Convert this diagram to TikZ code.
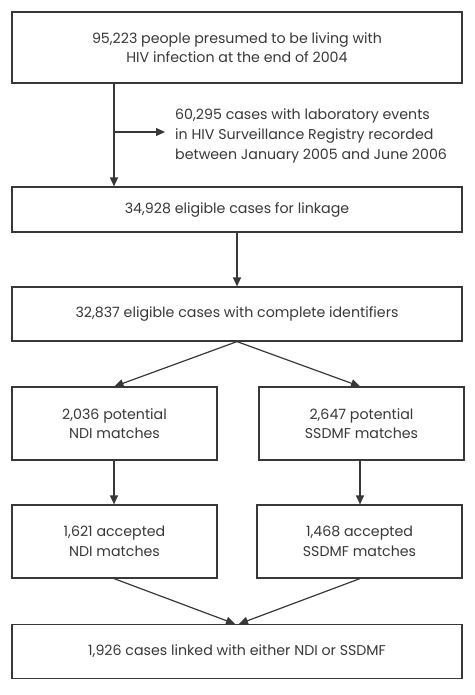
\documentclass[tikz,border=0pt]{standalone}
\usepackage{fontspec}
\setmainfont{Poppins}
\usetikzlibrary{arrows.meta}
\definecolor{ink}{HTML}{383838}
\begin{document}
\begin{tikzpicture}[x=1pt,y=-1pt,
  box/.style={draw=ink,line width=1.2pt,inner sep=0pt,text=ink,align=center,font=\fontsize{14.2}{19.5}\selectfont},
  arr/.style={draw=ink,line width=1.2pt,-{Triangle[length=9pt,width=8pt]}}]
\useasboundingbox (0,0) rectangle (474,695);
\node[box,minimum width=450pt,minimum height=71pt] (b1) at (237,47.5) {95,223 people presumed to be living with\\HIV infection at the end of 2004};
\node[box,minimum width=450pt,minimum height=45pt] (b2) at (237,209.5) {34,928 eligible cases for linkage};
\node[box,minimum width=450pt,minimum height=54pt] (b3) at (237,314) {32,837 eligible cases with complete identifiers};
\node[box,minimum width=205pt,minimum height=73pt] (p1) at (114.5,423.5) {2,036 potential\\NDI matches};
\node[box,minimum width=205pt,minimum height=73pt] (p2) at (361.5,423.5) {2,647 potential\\SSDMF matches};
\node[box,minimum width=205pt,minimum height=73pt] (a1) at (114.5,541.5) {1,621 accepted\\NDI matches};
\node[box,minimum width=205pt,minimum height=73pt] (a2) at (359.5,541.5) {1,468 accepted\\SSDMF matches};
\node[box,minimum width=450pt,minimum height=54pt] (b4) at (237,651.5) {1,926 cases linked with either NDI or SSDMF};
\node[text=ink,align=left,anchor=west,inner sep=0pt,font=\fontsize{14.2}{20}\selectfont] (side) at (175,136) {60,295 cases with laboratory events\\in HIV Surveillance Registry recorded\\between January 2005 and June 2006};
\coordinate (j) at (114,132);
\draw[arr] (b1.south -| j) -- (b2.north -| j);
\draw[arr] (j) -- ([xshift=-10pt]side.west |- j);
\draw[arr] (b2.south) -- (b3.north);
\draw[arr] (b3.south) -- (p1.north);
\draw[arr] (b3.south) -- (p2.north -| 360,0);
\draw[arr] (p1.south -| 114,0) -- (a1.north -| 114,0);
\draw[arr] (p2.south -| 360,0) -- (a2.north -| 360,0);
\draw[arr] (a1.south -| 114,0) -- ([xshift=-2pt]b4.north);
\draw[arr] (a2.south -| 360,0) -- ([xshift=2pt]b4.north);
\end{tikzpicture}
\end{document}
